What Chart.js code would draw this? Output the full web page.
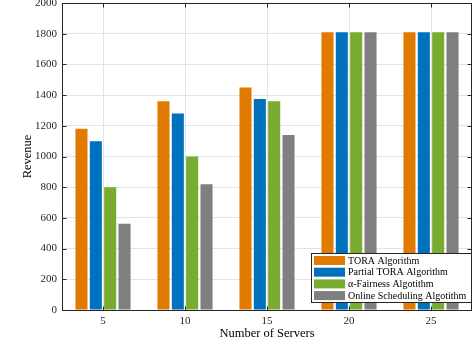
<!DOCTYPE html>
<html>
<head>
<meta charset="utf-8">
<script src="https://cdn.jsdelivr.net/npm/chart.js@4/dist/chart.umd.min.js"></script>
<style>
  html, body { margin: 0; padding: 0; background: #fff; }
  #wrap { width: 474px; height: 364px; }
</style>
</head>
<body>
<div id="wrap"><canvas id="revChart"></canvas></div>
<script>
// サーバ数ごとの収益
const servers = ['5', '10', '15', '20', '25'];
const tora = [1180, 1360, 1450, 1810, 1810];
const partialTora = [1100, 1280, 1375, 1810, 1810];
const alphaFair = [800, 1000, 1360, 1810, 1810];
const onlineSched = [562, 820, 1140, 1810, 1810];

const seriesNames = ['TORA Algorithm', 'Partial TORA Algorithm', '\u03b1-Fairness Algotithm', 'Online Scheduling Algotithm'];
const seriesColors = ['#E07B00', '#0072BD', '#77AC30', '#7F7F7F'];

const FONT = 'Liberation Serif';

// 枠線・内向き目盛り・凡例を描く
const boxLegend = {
    id: 'boxLegend',
    afterDraw(chart) {
        const ctx = chart.ctx;
        const a = chart.chartArea;
        const L = Math.round(a.left) + 0.5, T = Math.round(a.top) + 0.5;
        const R = Math.round(a.right) - 0.5, B = Math.round(a.bottom) + 0.5;
        ctx.save();
        ctx.strokeStyle = '#262626';
        ctx.lineWidth = 1;
        ctx.strokeRect(L, T, R - L, B - T);

        // MATLAB風の内向き目盛り
        ctx.beginPath();
        const xs = chart.scales.x, ys = chart.scales.y;
        xs.ticks.forEach((t, i) => {
            const px = Math.round(xs.getPixelForTick(i)) + 0.5;
            ctx.moveTo(px, T); ctx.lineTo(px, T + 4);
            ctx.moveTo(px, B); ctx.lineTo(px, B - 4);
        });
        ys.ticks.forEach((t, i) => {
            const py = Math.round(ys.getPixelForTick(i)) + 0.5;
            ctx.moveTo(L, py); ctx.lineTo(L + 4, py);
            ctx.moveTo(R, py); ctx.lineTo(R - 4, py);
        });
        ctx.stroke();

        const w = 160, h = 49;
        const x0 = Math.round(a.right) - w - 1, y0 = Math.round(a.bottom) - h - 8;
        ctx.fillStyle = '#fff';
        ctx.fillRect(x0, y0, w, h);
        ctx.strokeStyle = '#262626';
        ctx.strokeRect(x0 + 0.5, y0 + 0.5, w, h);
        ctx.font = '10px "' + FONT + '"';
        ctx.textBaseline = 'middle';
        chart.data.datasets.forEach((ds, i) => {
            const cy = y0 + 7.5 + i * 11.7;
            ctx.fillStyle = ds.backgroundColor;
            ctx.fillRect(x0 + 3, cy - 4.5, 31, 9);
            ctx.fillStyle = '#000';
            ctx.fillText(ds.label, x0 + 37, cy + 0.5);
        });
        ctx.restore();
    }
};

const datasets = [tora, partialTora, alphaFair, onlineSched].map((vals, i) => ({
    label: seriesNames[i],
    data: vals,
    backgroundColor: seriesColors[i],
    borderWidth: 0,
    categoryPercentage: 0.7,
    barPercentage: 0.84
}));

new Chart(document.getElementById('revChart'), {
    type: 'bar',
    data: { labels: servers, datasets: datasets },
    plugins: [boxLegend],
    options: {
        responsive: true,
        maintainAspectRatio: false,
        animation: false,
        layout: { padding: { left: 20, right: 2, top: 3, bottom: 0 } },
        plugins: {
            legend: { display: false },
            tooltip: { enabled: false }
        },
        scales: {
            x: {
                offset: true,
                grid: { offset: false, color: '#e3e3e3', drawTicks: false },
                border: { display: false },
                ticks: { color: '#262626', padding: 5, font: { family: FONT, size: 11 } },
                title: { display: true, text: 'Number of Servers', color: '#000', padding: { top: 0, bottom: 23 }, font: { family: FONT, size: 12.5 } },
                afterFit(scale) { scale.height = 54; }
            },
            y: {
                min: 0,
                max: 2000,
                ticks: {
                    stepSize: 200, color: '#262626', padding: 5, font: { family: FONT, size: 11 },
                    callback: (v) => String(v)
                },
                grid: { color: '#e3e3e3', drawTicks: false },
                border: { display: false },
                title: { display: true, text: 'Revenue', color: '#000', padding: { top: 0, bottom: 0 }, font: { family: FONT, size: 12.5 } },
                afterFit(scale) { scale.width = 42; scale.paddingTop = 0; }
            }
        }
    }
});
</script>
</body>
</html>
